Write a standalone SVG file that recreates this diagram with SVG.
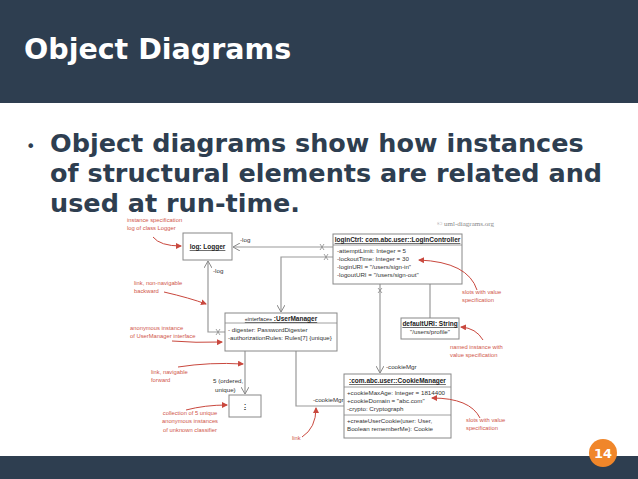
<svg xmlns="http://www.w3.org/2000/svg" width="638" height="479" viewBox="0 0 638 479">
<defs>
<style>
.box{fill:#fff;stroke:#888;stroke-width:1}
.ln{fill:none;stroke:#999;stroke-width:1.2}
.t{font-family:"Liberation Sans",Arial,sans-serif;font-size:6.2px;fill:#333}
.h{font-family:"Liberation Sans",Arial,sans-serif;font-size:6.5px;fill:#222;font-weight:bold;text-decoration:underline}
.r{font-family:"Liberation Sans",Arial,sans-serif;font-size:5.8px;fill:#d0554a}
.ra{fill:none;stroke:#c9483e;stroke-width:1}
.x{stroke:#888;stroke-width:0.8}
</style>
<marker id="open" markerWidth="8" markerHeight="8" refX="7" refY="4" orient="auto" markerUnits="userSpaceOnUse"><path d="M0,0 L7,4 L0,8" fill="none" stroke="#888" stroke-width="1"/></marker>
<marker id="red" markerWidth="6" markerHeight="6" refX="5" refY="3" orient="auto" markerUnits="userSpaceOnUse"><path d="M0,0 L6,3 L0,6 z" fill="#c9483e"/></marker>
</defs>
<rect width="638" height="479" fill="#fff"/>
<rect width="638" height="103" fill="#2e3e50"/>
<text x="24" y="59" font-family="DejaVu Sans,sans-serif" font-weight="bold" font-size="28.5" fill="#fff">Object Diagrams</text>
<g font-family="DejaVu Sans,sans-serif" font-weight="bold" font-size="25.5" fill="#2e3e50">
<text x="26" y="152" font-size="16" font-weight="normal">•</text>
<text x="50" y="152">Object diagrams show how instances</text>
<text x="50" y="182">of structural elements are related and</text>
<text x="50" y="212">used at run-time.</text>
</g>
<rect y="456" width="638" height="23" fill="#2e3e50"/>
<circle cx="603" cy="453" r="14" fill="#f0862a"/>
<text x="603" y="458" text-anchor="middle" font-family="DejaVu Sans,sans-serif" font-weight="bold" font-size="13" fill="#fff">14</text>
<text x="437" y="226" font-family="Liberation Serif,serif" font-size="7" fill="#888">© uml-diagrams.org</text>

<g id="connectors">
<path class="ln" d="M333,247 H233" marker-end="url(#open)"/>
<line class="x" x1="320" y1="244" x2="324" y2="250"/><line class="x" x1="324" y1="244" x2="320" y2="250"/>
<text class="t" x="240" y="242">-log</text>
<path class="ln" d="M333,257 H281 V312" marker-end="url(#open)"/>
<line class="x" x1="324" y1="254" x2="328" y2="260"/><line class="x" x1="328" y1="254" x2="324" y2="260"/>
<path class="ln" d="M225,332 H208 V261" marker-end="url(#open)"/>
<line class="x" x1="216" y1="329" x2="220" y2="335"/><line class="x" x1="220" y1="329" x2="216" y2="335"/>
<text class="t" x="213" y="273">-log</text>
<path class="ln" d="M245,351 V394" marker-end="url(#open)"/>
<text class="t" x="213" y="383">5 (ordered,</text><text class="t" x="215" y="392">unique)</text>
<path class="ln" d="M296,351 V406 H344"/>
<text class="t" x="313" y="402">-cookieMgr</text>
<path class="ln" d="M380,284 V373" marker-end="url(#open)"/>
<line class="x" x1="378" y1="288" x2="382" y2="293"/><line class="x" x1="382" y1="288" x2="378" y2="293"/>
<text class="t" x="386" y="369">-cookieMgr</text>
<path class="ln" d="M430,284 V318"/>
</g>

<g id="logger"><rect class="box" x="183" y="233" width="49" height="27"/><text class="h" x="207.5" y="249" text-anchor="middle">log: Logger</text></g>
<g id="loginctrl"><rect class="box" x="333" y="234" width="129" height="50"/><line class="x" x1="333" y1="245" x2="462" y2="245"/>
<text class="h" x="397.5" y="242" text-anchor="middle">loginCtrl: com.abc.user::LoginController</text>
<text class="t" x="337" y="253">-attemptLimit: Integer = 5</text>
<text class="t" x="337" y="261">-lockoutTime: Integer = 30</text>
<text class="t" x="337" y="269">-loginURI = "/users/sign-in"</text>
<text class="t" x="337" y="277">-logoutURI = "/users/sign-out"</text></g>
<g id="usermanager"><rect class="box" x="225" y="313" width="112" height="38"/><line class="x" x1="225" y1="323" x2="337" y2="323"/>
<text class="h" x="281" y="321" text-anchor="middle"><tspan font-weight="normal" font-size="5.5">«interface»</tspan> :UserManager</text>
<text class="t" x="228" y="332">- digester: PasswordDigester</text>
<text class="t" x="228" y="340">-authorizationRules: Rules[7] {unique}</text></g>
<g id="unknown"><rect class="box" x="229" y="395" width="32" height="22"/><text class="h" x="245" y="408" text-anchor="middle">:</text></g>
<g id="defaulturi"><rect class="box" x="401" y="318" width="58" height="21"/><text class="h" x="430" y="326" text-anchor="middle">defaultURI: String</text><text class="t" x="430" y="334" text-anchor="middle">"/users/profile"</text></g>
<g id="cookiemanager"><rect class="box" x="344" y="374" width="107" height="64"/><line class="x" x1="344" y1="387" x2="451" y2="387"/><line class="x" x1="344" y1="415" x2="451" y2="415"/>
<text class="h" x="397.5" y="383" text-anchor="middle">:com.abc.user::CookieManager</text>
<text class="t" x="347" y="395">+cookieMaxAge: Integer = 1814400</text>
<text class="t" x="347" y="403">+cookieDomain = "abc.com"</text>
<text class="t" x="347" y="411">-crypto: Cryptograph</text>
<text class="t" x="347" y="423">+createUserCookie(user: User,</text>
<text class="t" x="347" y="431">Boolean rememberMe): Cookie</text></g>

<g id="annotations">
<text class="r" x="127" y="222">instance specification</text><text class="r" x="127" y="230">log of class Logger</text>
<path class="ra" d="M153,237 Q160,246 181,246" marker-end="url(#red)"/>
<text class="r" x="134" y="285">link, non-navigable</text><text class="r" x="134" y="293">backward</text>
<path class="ra" d="M164,292 Q190,298 206,304" marker-end="url(#red)"/>
<text class="r" x="130" y="330">anonymous instance</text><text class="r" x="130" y="338">of UserManager interface</text>
<path class="ra" d="M172,341 Q195,343 222,342" marker-end="url(#red)"/>
<text class="r" x="151" y="374">link, navigable</text><text class="r" x="151" y="382">forward</text>
<path class="ra" d="M178,367 Q210,362 243,364" marker-end="url(#red)"/>
<text class="r" x="190" y="415" text-anchor="middle">collection of 5 unique</text><text class="r" x="190" y="423" text-anchor="middle">anonymous instances</text><text class="r" x="190" y="432" text-anchor="middle">of unknown classifier</text>
<path class="ra" d="M186,410 Q205,405 227,405" marker-end="url(#red)"/>
<text class="r" x="292" y="440">link</text>
<path class="ra" d="M302,437 Q316,428 316,408" marker-end="url(#red)"/>
<text class="r" x="462" y="294">slots with value</text><text class="r" x="462" y="302">specification</text>
<path class="ra" d="M477,290 Q468,262 419,260" marker-end="url(#red)"/>
<text class="r" x="450" y="349">named instance with</text><text class="r" x="450" y="357">value specification</text>
<path class="ra" d="M483,340 Q476,328 461,327" marker-end="url(#red)"/>
<text class="r" x="466" y="422">slots with value</text><text class="r" x="466" y="430">specification</text>
<path class="ra" d="M480,418 Q470,398 432,398" marker-end="url(#red)"/>
</g>
</svg>
